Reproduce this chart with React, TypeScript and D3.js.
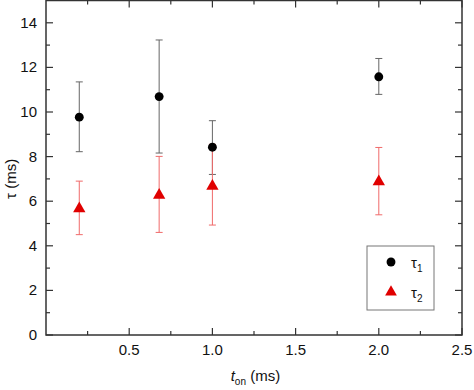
import React from "react";
import { scaleLinear, range, symbol, symbolTriangle, symbolCircle } from "d3";

const tOn = [0.2, 0.68, 1.0, 2.0];
const tau1 = [9.77, 10.69, 8.42, 11.58];
const tau1Hi = [11.35, 13.23, 9.61, 12.4];
const tau1Lo = [8.22, 8.16, 7.2, 10.79];
const tau2 = [5.71, 6.32, 6.72, 6.92];
const tau2Hi = [6.9, 8.01, 8.55, 8.41];
const tau2Lo = [4.5, 4.6, 4.93, 5.39];
const xTicks = [0.5, 1.0, 1.5, 2.0, 2.5];
const yTicks = [0, 2, 4, 6, 8, 10, 12, 14];

const App = () => {
	const width = 474;
	const height = 390;
	const margin = { top: 0.5, right: 12, bottom: 55, left: 46 };
	const x = scaleLinear().domain([0, 2.5]).range([margin.left, width - margin.right]);
	const y = scaleLinear().domain([0, 15]).range([height - margin.bottom, margin.top]);
	const x0 = x(0), x1 = x(2.5), y0 = y(0), y1 = y(15);
	const frame = "#333";
	const font = "Liberation Sans, Arial, sans-serif";
	const xMinor = range(0.25, 2.5, 0.5);
	const yMinor = range(1, 15, 2);
	const cap = 3.5;

	const series = [
		{ v: tau1, hi: tau1Hi, lo: tau1Lo, bar: "#666", fill: "#000", shape: symbolCircle, size: 62 },
		{ v: tau2, hi: tau2Hi, lo: tau2Lo, bar: "#f06a6a", fill: "#e00000", shape: symbolTriangle, size: 66 },
	];

	return (
		<svg width={width} height={height} style={{ position: "absolute", left: 0, top: 0 }}>
			<rect width={width} height={height} fill="#fff" />
			{/* error bars then markers; tau2 drawn after tau1 */}
			{series.map((s, si) => (
				<g key={si}>
					{tOn.map((t, i) => (
						<g key={i} stroke={s.bar} strokeWidth={1}>
							<line x1={x(t)} x2={x(t)} y1={y(s.hi[i])} y2={y(s.lo[i])} />
							<line x1={x(t) - cap} x2={x(t) + cap} y1={y(s.hi[i])} y2={y(s.hi[i])} />
							<line x1={x(t) - cap} x2={x(t) + cap} y1={y(s.lo[i])} y2={y(s.lo[i])} />
						</g>
					))}
				</g>
			))}
			{series.map((s, si) => (
				<g key={"m" + si}>
					{tOn.map((t, i) => (
						<path
							key={i}
							d={symbol(s.shape, s.size)()!}
							transform={`translate(${x(t)},${y(s.v[i]) + (si === 1 ? 1 : 0)})`}
							fill={s.fill}
						/>
					))}
				</g>
			))}
			{/* frame */}
			<rect x={x0} y={y1} width={x1 - x0} height={y0 - y1} fill="none" stroke={frame} strokeWidth={1.5} />
			{xTicks.map((t) => (
				<g key={t} stroke={frame} strokeWidth={1.2}>
					<line x1={x(t)} x2={x(t)} y1={y0} y2={y0 - 7} />
					<line x1={x(t)} x2={x(t)} y1={y1} y2={y1 + 7} />
				</g>
			))}
			{xMinor.map((t) => (
				<g key={t} stroke={frame} strokeWidth={1.2}>
					<line x1={x(t)} x2={x(t)} y1={y0} y2={y0 - 4} />
					<line x1={x(t)} x2={x(t)} y1={y1} y2={y1 + 4} />
				</g>
			))}
			{yTicks.map((t) => (
				<g key={t} stroke={frame} strokeWidth={1.2}>
					<line x1={x0} x2={x0 + 7} y1={y(t)} y2={y(t)} />
					<line x1={x1} x2={x1 - 7} y1={y(t)} y2={y(t)} />
				</g>
			))}
			{yMinor.map((t) => (
				<g key={t} stroke={frame} strokeWidth={1.2}>
					<line x1={x0} x2={x0 + 4} y1={y(t)} y2={y(t)} />
					<line x1={x1} x2={x1 - 4} y1={y(t)} y2={y(t)} />
				</g>
			))}
			{xTicks.map((t) => (
				<text key={t} x={x(t)} y={y0 + 20} textAnchor="middle" fontFamily={font} fontSize={15} fill="#111">
					{t.toFixed(1)}
				</text>
			))}
			{yTicks.map((t) => (
				<text key={t} x={x0 - 9} y={y(t) + 5} textAnchor="end" fontFamily={font} fontSize={15} fill="#111">
					{t}
				</text>
			))}
			<text x={x(1.0) + 43} y={y0 + 46} textAnchor="middle" fontFamily={font} fontSize={15} fill="#111">
				<tspan fontStyle="italic">t</tspan>
				<tspan fontSize={10} dy={4}>on</tspan>
				<tspan dy={-4}> (ms)</tspan>
			</text>
			<text transform={`translate(16,${y(7)}) rotate(-90)`} textAnchor="middle" fontFamily={font} fontSize={15} fill="#111">
				τ (ms)
			</text>
			{/* legend */}
			<rect x={367} y={246} width={67} height={64} fill="#fff" stroke="#777" strokeWidth={1} />
			<path d={symbol(symbolCircle, 62)()!} transform="translate(391,262)" fill="#000" />
			<path d={symbol(symbolTriangle, 60)()!} transform="translate(391,292)" fill="#e00000" />
			<text x={411} y={268} fontFamily={font} fontSize={15} fill="#111">
				τ<tspan fontSize={10} dy={4}>1</tspan>
			</text>
			<text x={411} y={298} fontFamily={font} fontSize={15} fill="#111">
				τ<tspan fontSize={10} dy={4}>2</tspan>
			</text>
		</svg>
	);
};

export default App;
